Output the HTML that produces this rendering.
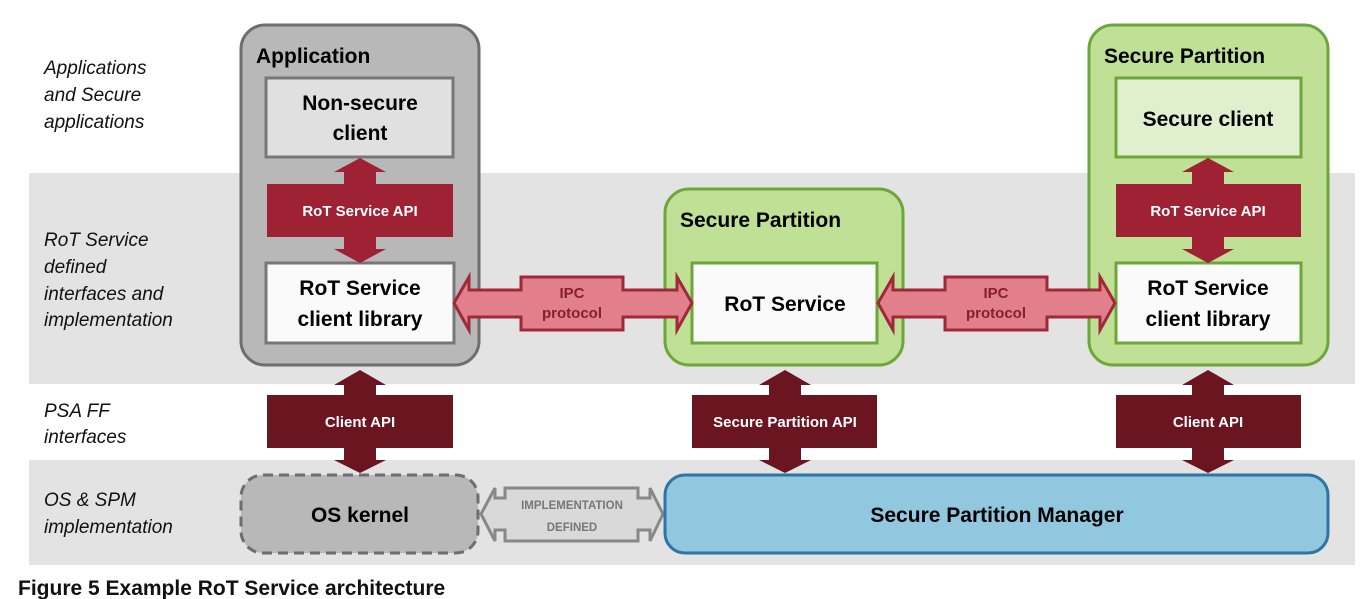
<!DOCTYPE html>
<html><head><meta charset="utf-8"><style>
html,body{margin:0;padding:0;background:#fff;}
svg{display:block;}
text{font-family:"Liberation Sans",sans-serif;}
.b{font-weight:bold;}
.it{font-style:italic;font-size:19px;fill:#111;}
</style></head><body>
<svg width="1370" height="599" viewBox="0 0 1370 599" xmlns="http://www.w3.org/2000/svg">
<rect x="29" y="173" width="1326" height="211" fill="#e3e3e3"/>
<rect x="29" y="460" width="1326" height="105" fill="#e3e3e3"/>

<text class="it" x="44" y="74">Applications</text>
<text class="it" x="44" y="101">and Secure</text>
<text class="it" x="44" y="128">applications</text>
<text class="it" x="44" y="246">RoT Service</text>
<text class="it" x="44" y="273">defined</text>
<text class="it" x="44" y="300">interfaces and</text>
<text class="it" x="44" y="326">implementation</text>
<text class="it" x="44" y="417">PSA FF</text>
<text class="it" x="44" y="443">interfaces</text>
<text class="it" x="44" y="506">OS &amp; SPM</text>
<text class="it" x="44" y="533">implementation</text>

<!-- Application -->
<rect x="241" y="25" width="238" height="340" rx="24" fill="#b8b8b8" stroke="#6e6e6e" stroke-width="3"/>
<text class="b" x="256" y="63" font-size="21">Application</text>
<rect x="266" y="78" width="187" height="79" fill="#e0e0e0" stroke="#777" stroke-width="3"/>
<text class="b" x="360" y="110" font-size="21" text-anchor="middle">Non-secure</text>
<text class="b" x="360" y="140" font-size="21" text-anchor="middle">client</text>
<rect x="266" y="263" width="188" height="80" fill="#fafafa" stroke="#777" stroke-width="3"/>
<text class="b" x="360" y="295" font-size="21" text-anchor="middle">RoT Service</text>
<text class="b" x="360" y="326" font-size="21" text-anchor="middle">client library</text>

<!-- middle SP -->
<rect x="665" y="189" width="238" height="176" rx="24" fill="#bfe095" stroke="#6da63a" stroke-width="3"/>
<text class="b" x="680" y="227" font-size="21">Secure Partition</text>
<rect x="692" y="263" width="185" height="80" fill="#fafafa" stroke="#6da63a" stroke-width="3"/>
<text class="b" x="785" y="311" font-size="21" text-anchor="middle">RoT Service</text>

<!-- right SP -->
<rect x="1089" y="25" width="239" height="340" rx="24" fill="#bfe095" stroke="#6da63a" stroke-width="3"/>
<text class="b" x="1104" y="63" font-size="21">Secure Partition</text>
<rect x="1116" y="78" width="185" height="79" fill="#e0f0cf" stroke="#6da63a" stroke-width="3"/>
<text class="b" x="1208" y="126" font-size="21" text-anchor="middle">Secure client</text>
<rect x="1116" y="263" width="185" height="80" fill="#fafafa" stroke="#6da63a" stroke-width="3"/>
<text class="b" x="1208" y="295" font-size="21" text-anchor="middle">RoT Service</text>
<text class="b" x="1208" y="326" font-size="21" text-anchor="middle">client library</text>

<!-- RoT Service API arrows -->
<polygon fill="#9e2134" points="360,158 386,172 376,172 376,184 453,184 453,237 376,237 376,249 386,249 360,263 334,249 344,249 344,237 267,237 267,184 344,184 344,172 334,172"/>
<text class="b" x="360" y="216" font-size="15" fill="#fff" text-anchor="middle">RoT Service API</text>
<polygon fill="#9e2134" points="1208,158 1234,172 1224,172 1224,184 1301,184 1301,237 1224,237 1224,249 1234,249 1208,263 1182,249 1192,249 1192,237 1116,237 1116,184 1192,184 1192,172 1182,172"/>
<text class="b" x="1208" y="216" font-size="15" fill="#fff" text-anchor="middle">RoT Service API</text>

<!-- Client API arrows -->
<polygon fill="#6b1520" points="360,370 386,385 376,385 376,395 453,395 453,448 376,448 376,460 386,460 360,473 334,460 344,460 344,448 267,448 267,395 344,395 344,385 334,385"/>
<text class="b" x="360" y="427" font-size="15" fill="#fff" text-anchor="middle">Client API</text>
<polygon fill="#6b1520" points="785,370 811,385 801,385 801,395 877,395 877,448 801,448 801,460 811,460 785,473 759,460 769,460 769,448 692,448 692,395 769,395 769,385 759,385"/>
<text class="b" x="785" y="427" font-size="15" fill="#fff" text-anchor="middle">Secure Partition API</text>
<polygon fill="#6b1520" points="1208,370 1234,385 1224,385 1224,395 1301,395 1301,448 1224,448 1224,460 1234,460 1208,473 1182,460 1192,460 1192,448 1116,448 1116,395 1192,395 1192,385 1182,385"/>
<text class="b" x="1208" y="427" font-size="15" fill="#fff" text-anchor="middle">Client API</text>

<!-- IPC arrows -->
<polygon fill="#e17f8a" stroke="#a0283a" stroke-width="3" stroke-linejoin="miter" points="454,303 469,277 469,290 521,290 521,277 623,277 623,290 677,290 677,277 692,303 677,330 677,317 623,317 623,330 521,330 521,317 469,317 469,330"/>
<text class="b" x="572" y="298" font-size="15" fill="#8a1e2c" text-anchor="middle">IPC</text>
<text class="b" x="572" y="318" font-size="15" fill="#8a1e2c" text-anchor="middle">protocol</text>
<polygon fill="#e17f8a" stroke="#a0283a" stroke-width="3" points="878,303 893,277 893,290 945,290 945,277 1047,277 1047,290 1100,290 1100,277 1115,303 1100,330 1100,317 1047,317 1047,330 945,330 945,317 893,317 893,330"/>
<text class="b" x="996" y="298" font-size="15" fill="#8a1e2c" text-anchor="middle">IPC</text>
<text class="b" x="996" y="318" font-size="15" fill="#8a1e2c" text-anchor="middle">protocol</text>

<!-- OS kernel -->
<rect x="241" y="475" width="237" height="78" rx="22" fill="#b8b8b8" stroke="#6e6e6e" stroke-width="3" stroke-dasharray="10,6"/>
<text class="b" x="360" y="522" font-size="21" text-anchor="middle">OS kernel</text>

<!-- implementation arrow -->
<polygon fill="#d9d9d9" stroke="#888" stroke-width="3" points="481,514 495,488 495,498 505,498 505,488 638,488 638,498 650,498 650,488 663,514 650,541 650,530 638,530 638,541 505,541 505,530 495,530 495,541"/>
<text class="b" x="572" y="509" font-size="11.5" fill="#777" text-anchor="middle">IMPLEMENTATION</text>
<text class="b" x="572" y="531" font-size="11.5" fill="#777" text-anchor="middle">DEFINED</text>

<!-- SPM -->
<rect x="665" y="475" width="663" height="78" rx="20" fill="#92c7e0" stroke="#2e75a0" stroke-width="3"/>
<text class="b" x="997" y="522" font-size="21" text-anchor="middle">Secure Partition Manager</text>

<text class="b" x="18" y="595" font-size="21" fill="#111">Figure 5 Example RoT Service architecture</text>
</svg>
</body></html>
